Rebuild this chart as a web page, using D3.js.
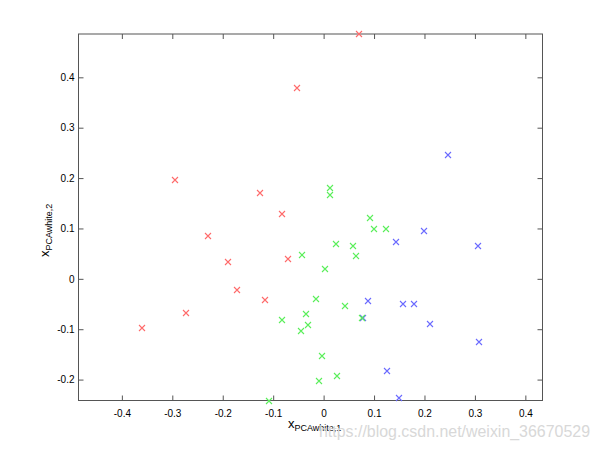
<!DOCTYPE html>
<html>
<head>
<meta charset="utf-8">
<script src="https://cdn.jsdelivr.net/npm/d3@7"></script>
<style>
  body { margin: 0; background: #fff; }
  text { font-family: "Liberation Sans", Arial, sans-serif; }
</style>
</head>
<body>
<div id="vis"></div>
<script>
var width = 600,
    height = 450;

// data, one array pair per class
var redX = [-0.053, -0.295, -0.126, -0.083, 0.071, -0.230, -0.189, -0.070, -0.171, -0.117, -0.273, -0.361];
var redY = [0.378, 0.197, 0.171, 0.128, 0.486, 0.086, 0.033, 0.040, -0.022, -0.042, -0.067, -0.097];

var greenX = [-0.042, 0.025, 0.002, -0.016, -0.082, -0.035, -0.030, -0.045, -0.003, 0.027, -0.010, -0.109,
              0.012, 0.013, 0.091, 0.099, 0.124, 0.058, 0.064, 0.043, 0.077];
var greenY = [0.048, 0.070, 0.019, -0.041, -0.081, -0.070, -0.092, -0.103, -0.154, -0.192, -0.203, -0.2415,
              0.180, 0.166, 0.120, 0.098, 0.099, 0.066, 0.046, -0.054, -0.078];

var blueX = [0.246, 0.200, 0.143, 0.306, 0.088, 0.157, 0.180, 0.078, 0.210, 0.309, 0.126, 0.150];
var blueY = [0.245, 0.094, 0.073, 0.065, -0.044, -0.050, -0.049, -0.078, -0.090, -0.126, -0.182, -0.237];

var xTicks = [-0.4, -0.3, -0.2, -0.1, 0, 0.1, 0.2, 0.3, 0.4];
var yTicks = [-0.2, -0.1, 0, 0.1, 0.2, 0.3, 0.4];

var mLeft = 78.5, mRight = 542.5, mTop = 34, mBottom = 400.5;

var svg = d3.select("#vis").append("svg")
    .attr("width", width)
    .attr("height", height);

var x = d3.scaleLinear().domain([-0.486, 0.434]).range([mLeft, mRight]);
var y = d3.scaleLinear().domain([-0.2415, 0.486]).range([mBottom, mTop]);

var fmt = function(d) { return d === 0 ? "0" : d3.format(".1f")(d).replace("\u2212", "-"); };

//--------AXES--------//
var axisColor = "#555";
var tickLen = 5;

svg.append("g")
    .attr("transform", "translate(0," + mBottom + ")")
    .call(d3.axisBottom(x).tickValues(xTicks).tickFormat(fmt).tickSizeInner(-tickLen).tickSizeOuter(0).tickPadding(9));
svg.append("g")
    .attr("transform", "translate(0," + mTop + ")")
    .call(d3.axisTop(x).tickValues(xTicks).tickFormat("").tickSizeInner(-tickLen).tickSizeOuter(0));
svg.append("g")
    .attr("transform", "translate(" + mLeft + ",0)")
    .call(d3.axisLeft(y).tickValues(yTicks).tickFormat(fmt).tickSizeInner(-tickLen).tickSizeOuter(0).tickPadding(4));
svg.append("g")
    .attr("transform", "translate(" + mRight + ",0)")
    .call(d3.axisRight(y).tickValues(yTicks).tickFormat("").tickSizeInner(-tickLen).tickSizeOuter(0));

svg.selectAll(".domain").remove();
svg.selectAll(".tick line").attr("stroke", axisColor);
svg.selectAll(".tick text")
    .style("font-size", "10px")
    .attr("fill", "#000");

// box
svg.append("rect")
    .attr("x", mLeft)
    .attr("y", mTop)
    .attr("width", mRight - mLeft)
    .attr("height", mBottom - mTop)
    .attr("fill", "none")
    .attr("stroke", axisColor)
    .attr("stroke-width", 1);

//--------POINTS--------//
function drawCross(xs, ys, color) {
    var pts = xs.map(function(v, i) { return [v, ys[i]]; });
    svg.append("g").selectAll("path")
        .data(pts)
        .enter()
        .append("path")
        .attr("d", function(d) {
            // whole-pixel centres give the soft look of the original markers
            var cx = Math.round(x(d[0])), cy = Math.round(y(d[1])), r = 3;
            return "M" + (cx - r) + "," + (cy - r) + "L" + (cx + r) + "," + (cy + r) +
                   "M" + (cx - r) + "," + (cy + r) + "L" + (cx + r) + "," + (cy - r);
        })
        .attr("stroke", color)
        .attr("stroke-width", 1.1)
        .attr("fill", "none");
}

drawCross(redX, redY, "#ff6a6a");
drawCross(blueX, blueY, "#6a6aff");
drawCross(greenX, greenY, "#5aee5a");

//--------LABELS--------//
var xl = svg.append("text")
    .attr("x", 288)
    .attr("y", 428)
    .style("font-size", "13px");
xl.append("tspan").text("x");
xl.append("tspan").attr("dy", 3).style("font-size", "9px").text("PCAwhite,1");

var yl = svg.append("text")
    .attr("transform", "translate(49,257) rotate(-90)")
    .style("font-size", "13px");
yl.append("tspan").text("x");
yl.append("tspan").attr("dy", 3).style("font-size", "9px").text("PCAwhite,2");

// watermark
svg.append("text")
    .attr("x", 319)
    .attr("y", 437)
    .style("font-size", "16px")
    .attr("textLength", 271)
    .attr("lengthAdjust", "spacingAndGlyphs")
    .attr("fill", "#d8d8d8")
    .text("https://blog.csdn.net/weixin_36670529");
</script>
</body>
</html>
